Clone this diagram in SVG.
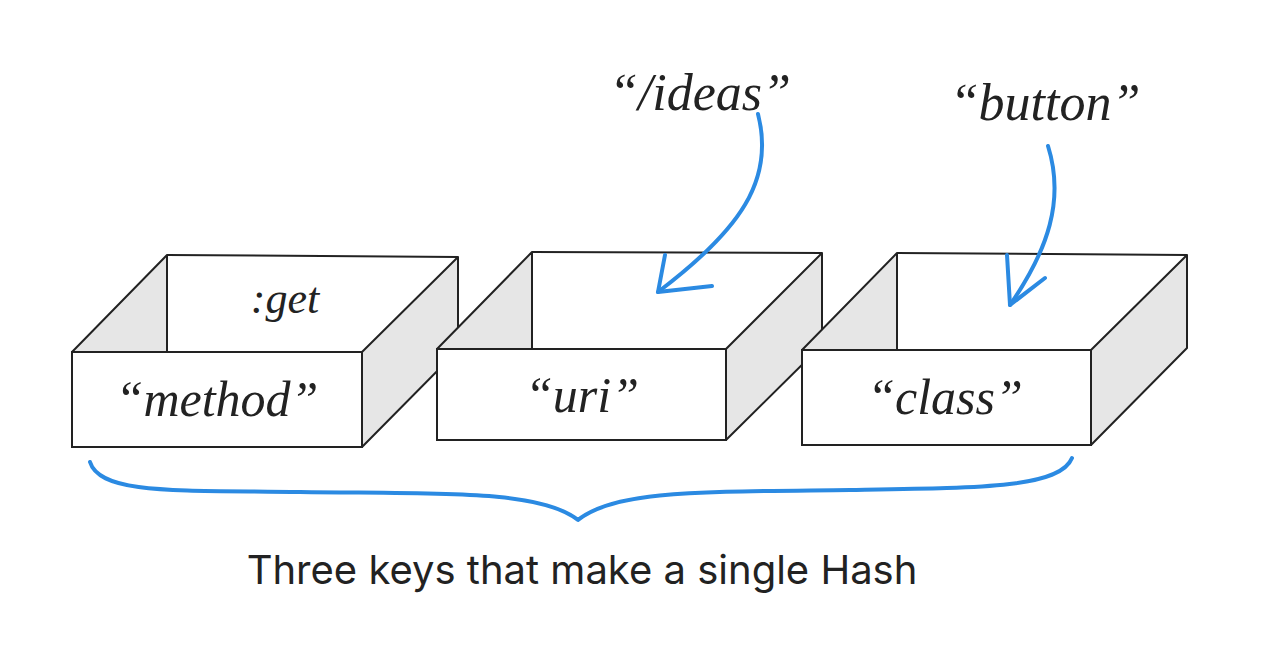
<svg xmlns="http://www.w3.org/2000/svg" width="1280" height="671" viewBox="0 0 1280 671">
<style>
.e{fill:none;stroke:#222;stroke-width:2;stroke-linejoin:round}
.g{fill:#e6e6e6;stroke:#222;stroke-width:2;stroke-linejoin:round}
.f{fill:#fff;stroke:#222;stroke-width:2}
.h{font-family:"Liberation Serif",serif;font-style:italic;fill:#222;text-anchor:middle}
.b{fill:none;stroke:#2b8ae2;stroke-width:4;stroke-linecap:round;stroke-linejoin:round}
</style>
<rect width="1280" height="671" fill="#fff"/>
<g id="box-method">
<path class="g" d="M72,352 L167,255 L167,352 Z"/>
<path class="e" d="M167,255 L458,257"/>
<path class="g" d="M362,352 L458,257 L458,350 L362,447 Z"/>
<rect class="f" x="72" y="352" width="290" height="95"/>
<text class="h" x="285" y="313" font-size="44">:get</text>
<text class="h" x="217" y="416" font-size="50">“method”</text>
</g>
<g id="box-uri">
<path class="g" d="M437,349 L532,252 L532,349 Z"/>
<path class="e" d="M532,252 L822,253"/>
<path class="g" d="M726,349 L822,253 L822,345 L726,440 Z"/>
<rect class="f" x="437" y="349" width="289" height="91"/>
<text class="h" x="582" y="412" font-size="50">“uri”</text>
</g>
<g id="box-class">
<path class="g" d="M802,350 L897,253 L897,350 Z"/>
<path class="e" d="M897,253 L1187,255"/>
<path class="g" d="M1091,350 L1187,255 L1187,348 L1091,445 Z"/>
<rect class="f" x="802" y="350" width="289" height="95"/>
<text class="h" x="945" y="414" font-size="50">“class”</text>
</g>
<g id="label-ideas"><text class="h" x="700" y="110" font-size="52">“/ideas”</text></g>
<g id="label-button"><text class="h" x="1045" y="120" font-size="52">“button”</text></g>
<g id="connectors">
<path class="b" d="M758,114 C775,180 740,230 658,292"/>
<path class="b" d="M665,255 L658,292 L712,286"/>
<path class="b" d="M1048,146 C1065,200 1048,250 1010,305"/>
<path class="b" d="M1007,255 L1010,305 L1045,278"/>
<path class="b" d="M90,462 C100,495 180,490 300,492 C450,494 540,490 578,520 C615,490 700,492 850,490 C980,488 1060,488 1072,458"/>
</g>
<text x="582" y="584" font-family="Inter,sans-serif" font-size="40" fill="#222" text-anchor="middle">Three keys that make a single Hash</text>
</svg>
